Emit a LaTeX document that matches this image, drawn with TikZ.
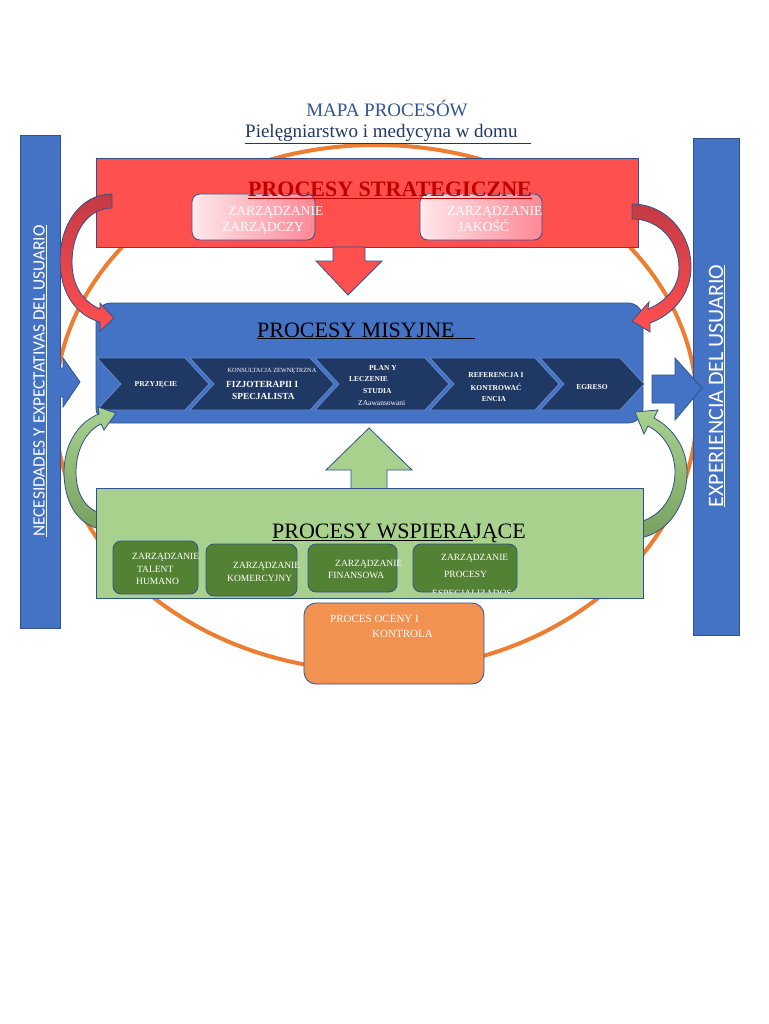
\documentclass[tikz,border=0pt]{standalone}
\usepackage{fontspec}
\setmainfont{Liberation Serif}
\newfontfamily\calibri{Carlito}

\definecolor{barblue}{RGB}{68,114,196}
\definecolor{edgeblue}{RGB}{47,82,143}
\definecolor{stratred}{RGB}{255,80,80}
\definecolor{titlered}{RGB}{192,0,0}
\definecolor{chevnavy}{RGB}{32,56,100}
\definecolor{supgreen}{RGB}{169,209,142}
\definecolor{darkgreen}{RGB}{84,130,53}
\definecolor{ovalorange}{RGB}{237,125,49}
\definecolor{boxorange}{RGB}{241,146,80}
\definecolor{titleblue}{RGB}{47,85,151}
\definecolor{subnavy}{RGB}{32,56,100}
\definecolor{bandred}{RGB}{196,58,68}
\definecolor{bandgreen}{RGB}{120,160,95}
\definecolor{pinklight}{RGB}{255,232,236}
\definecolor{pinkdark}{RGB}{255,135,148}

\tikzset{
  panel/.style={draw=edgeblue, line width=0.8pt},
  chevron/.style={fill=chevnavy, draw=barblue!80!white, line width=0.7pt},
  chevtext/.style={text=white, font=\bfseries\fontsize{7.5}{9}\selectfont, inner sep=0pt},
  bigtext/.style={text=white, font=\fontsize{13.5}{16}\selectfont, inner sep=0pt, anchor=base west},
  smalltext/.style={text=white, font=\fontsize{9.5}{11}\selectfont, inner sep=0pt, anchor=base west},
  headtext/.style={font=\fontsize{22}{26}\selectfont, inner sep=0pt, anchor=base west},
  bartext/.style={rotate=90, text=white, inner sep=0pt}
}

\begin{document}
\begin{tikzpicture}[x=1pt, y=-1pt]
        \fill [white] (0,0) rectangle (768,1024);
        \useasboundingbox (0,0) rectangle (768,1024);

        \draw [ovalorange, line width=4pt] (376,408) ellipse [x radius=321, y radius=263];

        \draw [panel, fill=barblue] (20,135) rectangle (60,628);
        \draw [panel, fill=barblue] (693,138) rectangle (739,635);
        \node [bartext, font=\calibri\fontsize{17.3}{20}\selectfont] (needs) at (40,381) {\underline{NECESIDADES Y EXPECTATIVAS DEL USUARIO}};
        \node [bartext, font=\calibri\fontsize{22}{26}\selectfont] (experience) at (717,386) {\underline{EXPERIENCIA DEL USUARIO}};

        \draw [panel, fill=barblue] (60,368) -- (63,368) -- (63,358) -- (80,382) -- (63,407) -- (63,397) -- (60,397);
        \draw [panel, fill=barblue] (652,375) -- (675,375) -- (675,358) -- (702,388) -- (675,420) -- (675,403) -- (652,403) -- cycle;

        \draw [panel, fill=stratred] (96,158) rectangle (638,247);
        \shadedraw [panel, left color=pinklight, right color=pinkdark, rounded corners=8pt] (192,194) rectangle (315,240);
        \shadedraw [panel, left color=pinklight, right color=pinkdark, rounded corners=8pt] (420,194) rectangle (542,240);
        \node [font=\bfseries\fontsize{22}{26}\selectfont, text=titlered, inner sep=0pt] (strat) at (390,190) {\underline{PROCESY STRATEGICZNE}};
        \node [bigtext] (mgmt1) at (228,215) {ZARZĄDZANIE};
        \node [bigtext] (mgmt2) at (222,232) {ZARZĄDCZY};
        \node [bigtext] (qual1) at (447,215) {ZARZĄDZANIE};
        \node [bigtext] (qual2) at (458,232) {JAKOŚĆ};

        \draw [panel, fill=stratred] (333,247) -- (365,247) -- (365,261) -- (382,261) -- (348,295) -- (316,261) -- (333,261) -- cycle;

        \draw [panel, fill=barblue, rounded corners=15pt] (96,303) rectangle (643,423);
        \node [headtext] (mission) at (257,337) {\underline{PROCESY MISYJNE\hspace{20pt}}};
        \foreach \a/\b in {97/185, 190/310, 315/425, 430/535, 540/620}
          \draw [chevron] (\a,358) -- (\b,358) -- (\b+24,384) -- (\b,410) -- (\a,410) -- (\a+24,384) -- cycle;
        \node [chevtext] (admit) at (156,385) {PRZYJĘCIE};
        \node [chevtext, font=\fontsize{6.3}{7}\selectfont] (consult) at (272,371) {KONSULTACJA ZEWNĘTRZNA};
        \node [chevtext, anchor=west, font=\bfseries\fontsize{9.3}{11}\selectfont] (physio) at (226,384) {FIZJOTERAPII I};
        \node [chevtext, anchor=west, font=\bfseries\fontsize{9.3}{11}\selectfont] (special) at (232,396) {SPECJALISTA};
        \node [chevtext] (plan) at (383,368) {PLAN Y};
        \node [chevtext, anchor=west] (treat) at (349,379) {LECZENIE};
        \node [chevtext, anchor=west] (study) at (363,391) {STUDIA};
        \node [chevtext, anchor=west, font=\fontsize{7.5}{9}\selectfont] (advanced) at (358,403) {ZAawansowani};
        \node [chevtext] (ref1) at (496,375) {REFERENCJA I};
        \node [chevtext] (ref2) at (496,387) {KONTROWAĆ};
        \node [chevtext] (ref3) at (494,399) {ENCIA};
        \node [chevtext] (exit) at (592,387) {EGRESO};

        \shadedraw [panel, top color=bandred, bottom color=stratred] (112,194) .. controls (80,194) and (60,225) .. (60,260) .. controls (60,292) and (75,315) .. (100,322) -- (100,331) -- (114,318) -- (100,303) -- (100,309) .. controls (84,302) and (72,287) .. (72,262) .. controls (72,232) and (88,208) .. (112,208) -- cycle;
        \shadedraw [panel, top color=bandred, bottom color=stratred] (632,204) .. controls (665,204) and (691,232) .. (691,267) .. controls (691,295) and (672,315) .. (650,323) -- (650,332) -- (632,321) -- (649,302) -- (648,309) .. controls (665,302) and (679,288) .. (679,268) .. controls (679,242) and (660,219) .. (632,219) -- cycle;

        \draw [panel, fill=supgreen] (351,488) -- (351,470) -- (326,470) -- (369,428) -- (412,470) -- (387,470) -- (387,488);

        \shadedraw [panel, top color=supgreen, bottom color=bandgreen] (100,529) .. controls (76,524) and (64,500) .. (64,472) .. controls (64,445) and (78,422) .. (99,414) -- (98,407) -- (116,413) -- (104,430) -- (101,424) .. controls (86,431) and (76,450) .. (76,472) .. controls (76,492) and (84,508) .. (100,513) -- cycle;
        \shadedraw [panel, top color=supgreen, bottom color=bandgreen] (640,538) .. controls (668,533) and (687,505) .. (687,472) .. controls (687,448) and (673,428) .. (654,418) -- (658,410) -- (635,412) -- (644,434) -- (648,426) .. controls (664,434) and (675,452) .. (675,472) .. controls (675,495) and (663,515) .. (640,522) -- cycle;

        \draw [panel, fill=supgreen] (96,488) rectangle (643,598);
        \node [headtext] (support) at (272,538) {\underline{PROCESY WSPIERA}JĄCE};
        \draw [panel, fill=darkgreen, rounded corners=8pt] (113,541) rectangle (198,594);
        \draw [panel, fill=darkgreen, rounded corners=8pt] (206,544) rectangle (297,596);
        \draw [panel, fill=darkgreen, rounded corners=8pt] (308,544) rectangle (397,592);
        \draw [panel, fill=darkgreen, rounded corners=8pt] (413,544) rectangle (517,592);
        \node [smalltext] (talent1) at (132,559) {ZARZĄDZANIE};
        \node [smalltext] (talent2) at (137,572) {TALENT};
        \node [smalltext] (talent3) at (136,584) {HUMANO};
        \node [smalltext] (trade1) at (233,568) {ZARZĄDZANIE};
        \node [smalltext] (trade2) at (227,581) {KOMERCYJNY};
        \node [smalltext] (money1) at (335,566) {ZARZĄDZANIE};
        \node [smalltext] (money2) at (328,578) {FINANSOWA};
        \node [smalltext] (proc1) at (441,560) {ZARZĄDZANIE};
        \node [smalltext] (proc2) at (444,577) {PROCESY};
        \begin{scope}
          \clip [rounded corners=8pt] (413,544) rectangle (517,592);
          \node [smalltext] (proc3) at (432,596) {ESPECJALIZADOS};
        \end{scope}

        \draw [panel, fill=boxorange, rounded corners=12pt] (304,603) rectangle (484,684);
        \node [smalltext, font=\fontsize{11}{13}\selectfont] (eval1) at (330,622) {PROCES OCENY I};
        \node [smalltext, font=\fontsize{11}{13}\selectfont] (eval2) at (372,637) {KONTROLA};

        \node [font=\fontsize{19}{23}\selectfont, text=titleblue, inner sep=0pt] (maptitle) at (387,108) {MAPA PROCESÓW};
        \node [font=\fontsize{19}{23}\selectfont, text=subnavy, inner sep=0pt, anchor=base west] (subtitle) at (245,138) {\underline{Pielęgniarstwo i medycyna w domu\hspace{14pt}}};
\end{tikzpicture}
\end{document}
